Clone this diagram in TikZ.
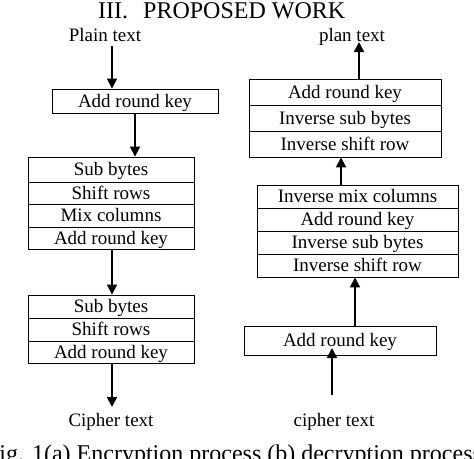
\documentclass[tikz,border=0pt]{standalone}
\usepackage{fontspec}
\setmainfont{Liberation Serif}
\usetikzlibrary{arrows.meta}
\begin{document}
\begin{tikzpicture}[x=1pt,y=-1pt,
  row/.style={draw, line width=0.9pt, inner sep=0pt, text height=12.6pt, text depth=0pt,
              font=\fontsize{19}{19}\selectfont},
  lbl/.style={inner sep=0pt, anchor=base, font=\fontsize{19}{19}\selectfont},
  arr/.style={line width=1.8pt, -{Triangle[length=10pt,width=10pt]}}]
\clip (0,0) rectangle (474,458);
% title and caption
\node[anchor=base west, inner sep=0pt, font=\fontsize{24}{24}\selectfont] (title) at (98,18) {III.\hspace{15pt}PROPOSED WORK};
\node[anchor=base, inner sep=0pt, font=\fontsize{24}{24}\selectfont] (caption) at (234,461) {Fig. 1(a) Encryption process (b) decryption process};

% ---------- encryption (left) ----------
\node[lbl] (plain) at (105,41) {Plain text};
\node[row, minimum width=166pt, minimum height=24pt] (a1) at (135,101) {Add round key};

\node[row, minimum width=166pt, minimum height=25pt] (l1a) at (111,169.5) {Sub bytes};
\node[row, minimum width=166pt, minimum height=22pt] (l1b) at (111,193) {Shift rows};
\node[row, minimum width=166pt, minimum height=23pt] (l1c) at (111,215.5) {Mix columns};
\node[row, minimum width=166pt, minimum height=22pt] (l1d) at (111,238) {Add round key};

\node[row, minimum width=166pt, minimum height=23pt] (l2a) at (111,306.5) {Sub bytes};
\node[row, minimum width=166pt, minimum height=23pt] (l2b) at (111,329.5) {Shift rows};
\node[row, minimum width=166pt, minimum height=22pt] (l2c) at (111,352) {Add round key};

\node[lbl] (cipherL) at (111,426.5) {Cipher text};

\coordinate (e1) at (112,46);
\coordinate (e2) at (135,0);
\coordinate (e3) at (112,0);
\coordinate (e4) at (112,407);
\draw[arr] (e1) -- (a1.north -| e1);
\draw[arr] (a1.south -| e2) -- (l1a.north -| e2);
\draw[arr] (l1d.south -| e3) -- (l2a.north -| e3);
\draw[arr] (l2c.south -| e4) -- (e4);

% ---------- decryption (right) ----------
\node[lbl] (plan) at (352,41) {plan text};

\node[row, minimum width=192pt, minimum height=26pt] (r1a) at (345,92) {Add round key};
\node[row, minimum width=192pt, minimum height=26pt] (r1b) at (345,118) {Inverse sub bytes};
\node[row, minimum width=192pt, minimum height=26pt] (r1c) at (345,144) {Inverse shift row};

\node[row, minimum width=201pt, minimum height=23pt] (r2a) at (357.5,196.5) {Inverse mix columns};
\node[row, minimum width=201pt, minimum height=23pt] (r2b) at (357.5,219.5) {Add round key};
\node[row, minimum width=201pt, minimum height=23pt] (r2c) at (357.5,242.5) {Inverse sub bytes};
\node[row, minimum width=201pt, minimum height=23pt] (r2d) at (357.5,265.5) {Inverse shift row};

\node[row, minimum width=192pt, minimum height=29pt] (r3) at (340,340.5) {Add round key};

\node[lbl] (cipherR) at (334,426) {cipher text};

\coordinate (d1) at (359,42);
\coordinate (d2) at (341,0);
\coordinate (d3) at (355,0);
\coordinate (d4) at (332,395);
\coordinate (d4t) at (332,348);
\draw[arr] (r1a.north -| d1) -- (d1);
\draw[arr] (r2a.north -| d2) -- (r1c.south -| d2);
\draw[arr] (r3.north -| d3) -- (r2d.south -| d3);
\draw[arr] (d4) -- (d4t);
\end{tikzpicture}
\end{document}
